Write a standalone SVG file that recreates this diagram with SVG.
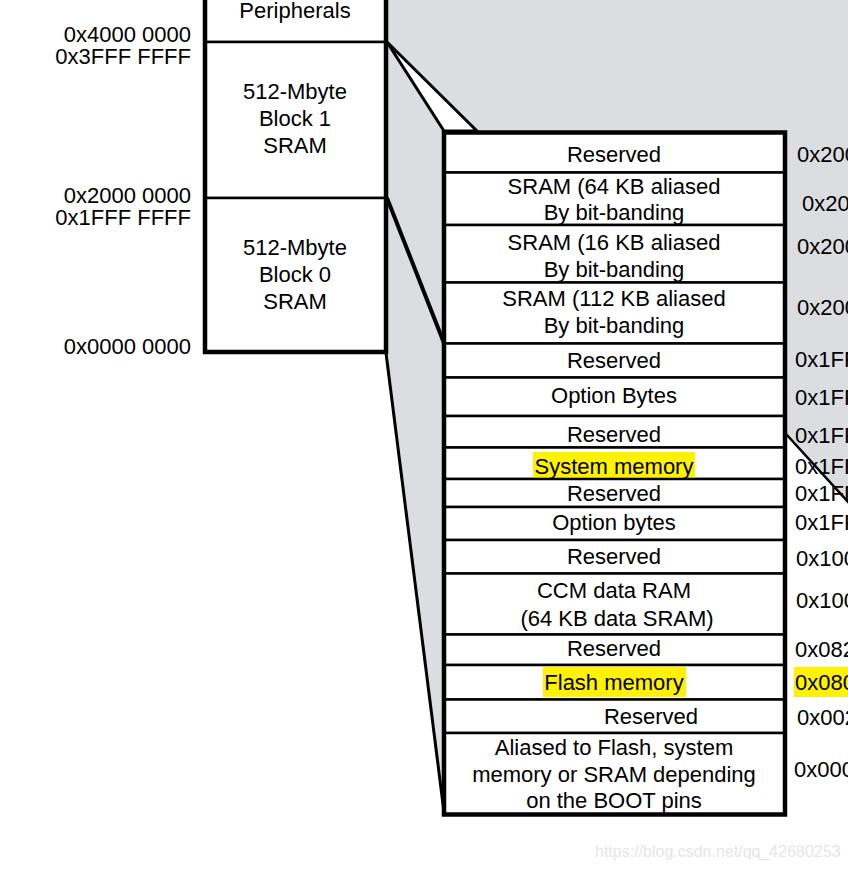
<svg xmlns="http://www.w3.org/2000/svg" width="848" height="870" viewBox="0 0 848 870">
<style>
text{font-family:"Liberation Sans",Arial,sans-serif;font-size:22px;fill:#000}
.c{text-anchor:middle}
.e{text-anchor:end}
.cell{fill:#fff;stroke:#000;stroke-width:2.5}
.frame{fill:none;stroke:#000;stroke-width:4.5}
.hl{fill:#fff200}
.conn{stroke:#000;fill:none}
.wm{font-size:16px;fill:#e6e6e6}
</style>
<rect width="848" height="870" fill="#fff"/>
<polygon id="shade" points="386,0 870,0 870,526 786,435 443,812 386,353" fill="#dcdde0"/>

<g id="left-block">
  <g id="peripherals">
    <rect class="cell" x="205" y="-10" width="181" height="52"/>
    <text class="c" x="295" y="18">Peripherals</text>
  </g>
  <g id="block1">
    <rect class="cell" x="205" y="42" width="181" height="156"/>
    <text class="c" x="295" y="99">512-Mbyte</text>
    <text class="c" x="295" y="126">Block 1</text>
    <text class="c" x="295" y="153">SRAM</text>
  </g>
  <g id="block0">
    <rect class="cell" x="205" y="198" width="181" height="154"/>
    <text class="c" x="295" y="255">512-Mbyte</text>
    <text class="c" x="295" y="282">Block 0</text>
    <text class="c" x="295" y="309">SRAM</text>
  </g>
  <rect class="frame" x="205" y="-10" width="181" height="362"/>
</g>

<g id="left-addresses">
  <text class="e" x="191" y="42">0x4000 0000</text>
  <text class="e" x="191" y="64">0x3FFF FFFF</text>
  <text class="e" x="191" y="203">0x2000 0000</text>
  <text class="e" x="191" y="225">0x1FFF FFFF</text>
  <text class="e" x="191" y="354">0x0000 0000</text>
</g>

<g id="connectors">
  <polygon points="387,42 444,131 477,131" fill="#fff" stroke="#000" stroke-width="3" stroke-linejoin="round"/>
  <line class="conn" x1="387" y1="198" x2="444" y2="343" stroke-width="4"/>
  <line class="conn" x1="386" y1="353" x2="444" y2="812" stroke-width="3"/>
</g>

<g id="memory-map">
  <g id="r-reserved1"><rect class="cell" x="444" y="132.5" width="341" height="40"/><text class="c" x="614" y="162">Reserved</text></g>
  <g id="r-sram64"><rect class="cell" x="444" y="172.5" width="341" height="52.5"/><text class="c" x="614" y="194">SRAM (64 KB aliased</text><text class="c" x="614" y="220">By bit-banding</text></g>
  <g id="r-sram16"><rect class="cell" x="444" y="225" width="341" height="57.5"/><text class="c" x="614" y="250">SRAM (16 KB aliased</text><text class="c" x="614" y="277">By bit-banding</text></g>
  <g id="r-sram112"><rect class="cell" x="444" y="282.5" width="341" height="61"/><text class="c" x="614" y="306">SRAM (112 KB aliased</text><text class="c" x="614" y="333">By bit-banding</text></g>
  <g id="r-reserved2"><rect class="cell" x="444" y="343.5" width="341" height="34"/><text class="c" x="614" y="368">Reserved</text></g>
  <g id="r-optbytes1"><rect class="cell" x="444" y="377.5" width="341" height="38.5"/><text class="c" x="614" y="403">Option Bytes</text></g>
  <g id="r-reserved3"><rect class="cell" x="444" y="416" width="341" height="31.5"/><text class="c" x="614" y="442">Reserved</text></g>
  <g id="r-sysmem"><rect class="cell" x="444" y="447.5" width="341" height="31.5"/><rect class="hl" x="533" y="452" width="162" height="28"/><text class="c" x="614" y="474">System memory</text></g>
  <g id="r-reserved4"><rect class="cell" x="444" y="479" width="341" height="28"/><text class="c" x="614" y="501">Reserved</text></g>
  <g id="r-optbytes2"><rect class="cell" x="444" y="507" width="341" height="33"/><text class="c" x="614" y="530">Option bytes</text></g>
  <g id="r-reserved5"><rect class="cell" x="444" y="540" width="341" height="33.5"/><text class="c" x="614" y="564">Reserved</text></g>
  <g id="r-ccm"><rect class="cell" x="444" y="573.5" width="341" height="61"/><text class="c" x="614" y="598">CCM data RAM</text><text class="c" x="617" y="626">(64 KB data SRAM)</text></g>
  <g id="r-reserved6"><rect class="cell" x="444" y="634.5" width="341" height="30.5"/><text class="c" x="614" y="656">Reserved</text></g>
  <g id="r-flash"><rect class="cell" x="444" y="665" width="341" height="34.5"/><rect class="hl" x="543" y="667" width="143" height="30"/><text class="c" x="614" y="690">Flash memory</text></g>
  <g id="r-reserved7"><rect class="cell" x="444" y="699.5" width="341" height="33.5"/><text class="c" x="651" y="724">Reserved</text></g>
  <g id="r-aliased"><rect class="cell" x="444" y="733" width="341" height="81.5"/><text class="c" x="614" y="755">Aliased to Flash, system</text><text class="c" x="614" y="782">memory or SRAM depending</text><text class="c" x="614" y="808">on the BOOT pins</text></g>
  <rect class="frame" x="444" y="132.5" width="341" height="682"/>
</g>

<g id="right-addresses">
  <text x="797" y="162">0x200</text>
  <text x="802" y="211">0x200</text>
  <text x="797" y="254">0x200</text>
  <text x="797" y="315">0x200</text>
  <text x="795" y="367">0x1FF</text>
  <text x="795" y="405">0x1FF</text>
  <text x="795" y="443">0x1FF</text>
  <text x="795" y="474">0x1FF</text>
  <text x="795" y="501">0x1FF</text>
  <text x="795" y="530">0x1FF</text>
  <text x="796" y="566">0x100</text>
  <text x="796" y="608">0x100</text>
  <text x="795" y="657">0x082</text>
  <rect class="hl" x="794" y="667" width="60" height="30"/>
  <text x="795" y="690">0x080</text>
  <text x="797" y="725">0x002</text>
  <text x="794" y="777">0x000</text>
</g>

<line id="boundary" class="conn" x1="786" y1="434" x2="870" y2="526" stroke-width="2.5"/>

<text class="wm" x="595" y="857">https://blog.csdn.net/qq_42680253</text>
</svg>
